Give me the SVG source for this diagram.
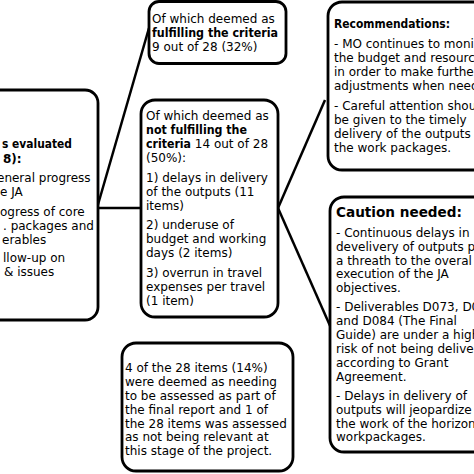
<svg xmlns="http://www.w3.org/2000/svg" width="474" height="474" viewBox="0 0 474 474">
<style>
.box{fill:#fff;stroke:#000;stroke-width:2.8}
.t{font-family:"DejaVu Sans",Verdana,sans-serif;font-size:12px;fill:#000}
.b{font-weight:bold}
.h{font-weight:bold;font-size:13.5px}
.c{stroke:#000;stroke-width:2.5;fill:none}
</style>
<rect width="474" height="474" fill="#fff"/>
<g id="connectors">
<line class="c" x1="97" y1="208" x2="149" y2="28"/>
<line class="c" x1="97" y1="208" x2="142" y2="208"/>
<line class="c" x1="278" y1="208" x2="325" y2="100"/>
<line class="c" x1="278" y1="208" x2="331" y2="328"/>
</g>
<g id="items-evaluated">
<rect class="box" x="-30" y="90" width="128" height="230" rx="13"/>
<text class="t b" x="2" y="148" textLength="70" lengthAdjust="spacingAndGlyphs">s evaluated</text>
<text class="t b" x="3" y="163">8):</text>
<text class="t" x="-3" y="182">eneral progress</text>
<text class="t" x="0" y="196">e JA</text>
<text class="t" x="0" y="216">ogress of core</text>
<text class="t" x="3" y="230">. packages and</text>
<text class="t" x="2" y="244">erables</text>
<text class="t" x="3" y="262">llow-up on</text>
<text class="t" x="4" y="276">&amp; issues</text>
</g>
<g id="fulfilling">
<rect class="box" x="149" y="1.5" width="137" height="62" rx="10"/>
<text class="t" x="152" y="23">Of which deemed as</text>
<text class="t b" x="152" y="37" textLength="126" lengthAdjust="spacingAndGlyphs">fulfilling the criteria</text>
<text class="t" x="152" y="51">9 out of 28 (32%)</text>
</g>
<g id="not-fulfilling">
<rect class="box" x="141" y="100" width="137" height="217" rx="14"/>
<text class="t" x="146" y="120">Of which deemed as</text>
<text class="t b" x="146" y="134" textLength="101" lengthAdjust="spacingAndGlyphs">not fulfilling the</text>
<text class="t" x="146" y="148"><tspan class="b" textLength="45" lengthAdjust="spacingAndGlyphs">criteria</tspan> 14 out of 28</text>
<text class="t" x="146" y="162">(50%):</text>
<text class="t" x="146" y="182">1) delays in delivery</text>
<text class="t" x="146" y="196">of the outputs (11</text>
<text class="t" x="146" y="210">items)</text>
<text class="t" x="146" y="229">2) underuse of</text>
<text class="t" x="146" y="243">budget and working</text>
<text class="t" x="146" y="257">days (2 items)</text>
<text class="t" x="146" y="277">3) overrun in travel</text>
<text class="t" x="146" y="291">expenses per travel</text>
<text class="t" x="146" y="305">(1 item)</text>
</g>
<g id="final-report">
<rect class="box" x="122" y="343" width="171" height="128" rx="14"/>
<text class="t" x="125" y="372">4 of the 28 items (14%)</text>
<text class="t" x="125" y="386">were deemed as needing</text>
<text class="t" x="125" y="400">to be assessed as part of</text>
<text class="t" x="125" y="414">the final report and 1 of</text>
<text class="t" x="125" y="428">the 28 items was assessed</text>
<text class="t" x="125" y="441">as not being relevant at</text>
<text class="t" x="125" y="455">this stage of the project.</text>
</g>
<g id="recommendations">
<rect class="box" x="328" y="2" width="200" height="168" rx="14"/>
<text class="t b" x="334" y="28" textLength="116" lengthAdjust="spacingAndGlyphs">Recommendations:</text>
<text class="t" x="334" y="48">- MO continues to moni</text>
<text class="t" x="334" y="62">the budget and resourc</text>
<text class="t" x="334" y="76">in order to make furthe</text>
<text class="t" x="334" y="90">adjustments when need</text>
<text class="t" x="334" y="110">- Careful attention shou</text>
<text class="t" x="334" y="124">be given to the timely</text>
<text class="t" x="334" y="138">delivery of the outputs</text>
<text class="t" x="334" y="152">the work packages.</text>
</g>
<g id="caution">
<rect class="box" x="330" y="197" width="200" height="255" rx="14"/>
<text class="t h" x="336" y="217" textLength="126" lengthAdjust="spacingAndGlyphs">Caution needed:</text>
<text class="t" x="336" y="237">- Continuous delays in</text>
<text class="t" x="336" y="251">develivery of outputs p</text>
<text class="t" x="336" y="265">a threath to the overal</text>
<text class="t" x="336" y="278">execution of the JA</text>
<text class="t" x="336" y="292">objectives.</text>
<text class="t" x="336" y="311">- Deliverables D073, D0</text>
<text class="t" x="336" y="325">and D084 (The Final</text>
<text class="t" x="336" y="339">Guide) are under a high</text>
<text class="t" x="336" y="353">risk of not being deliver</text>
<text class="t" x="336" y="367">according to Grant</text>
<text class="t" x="336" y="381">Agreement.</text>
<text class="t" x="336" y="400">- Delays in delivery of</text>
<text class="t" x="336" y="414">outputs will jeopardize</text>
<text class="t" x="336" y="428">the work of the horizon</text>
<text class="t" x="336" y="441">workpackages.</text>
</g>
</svg>
